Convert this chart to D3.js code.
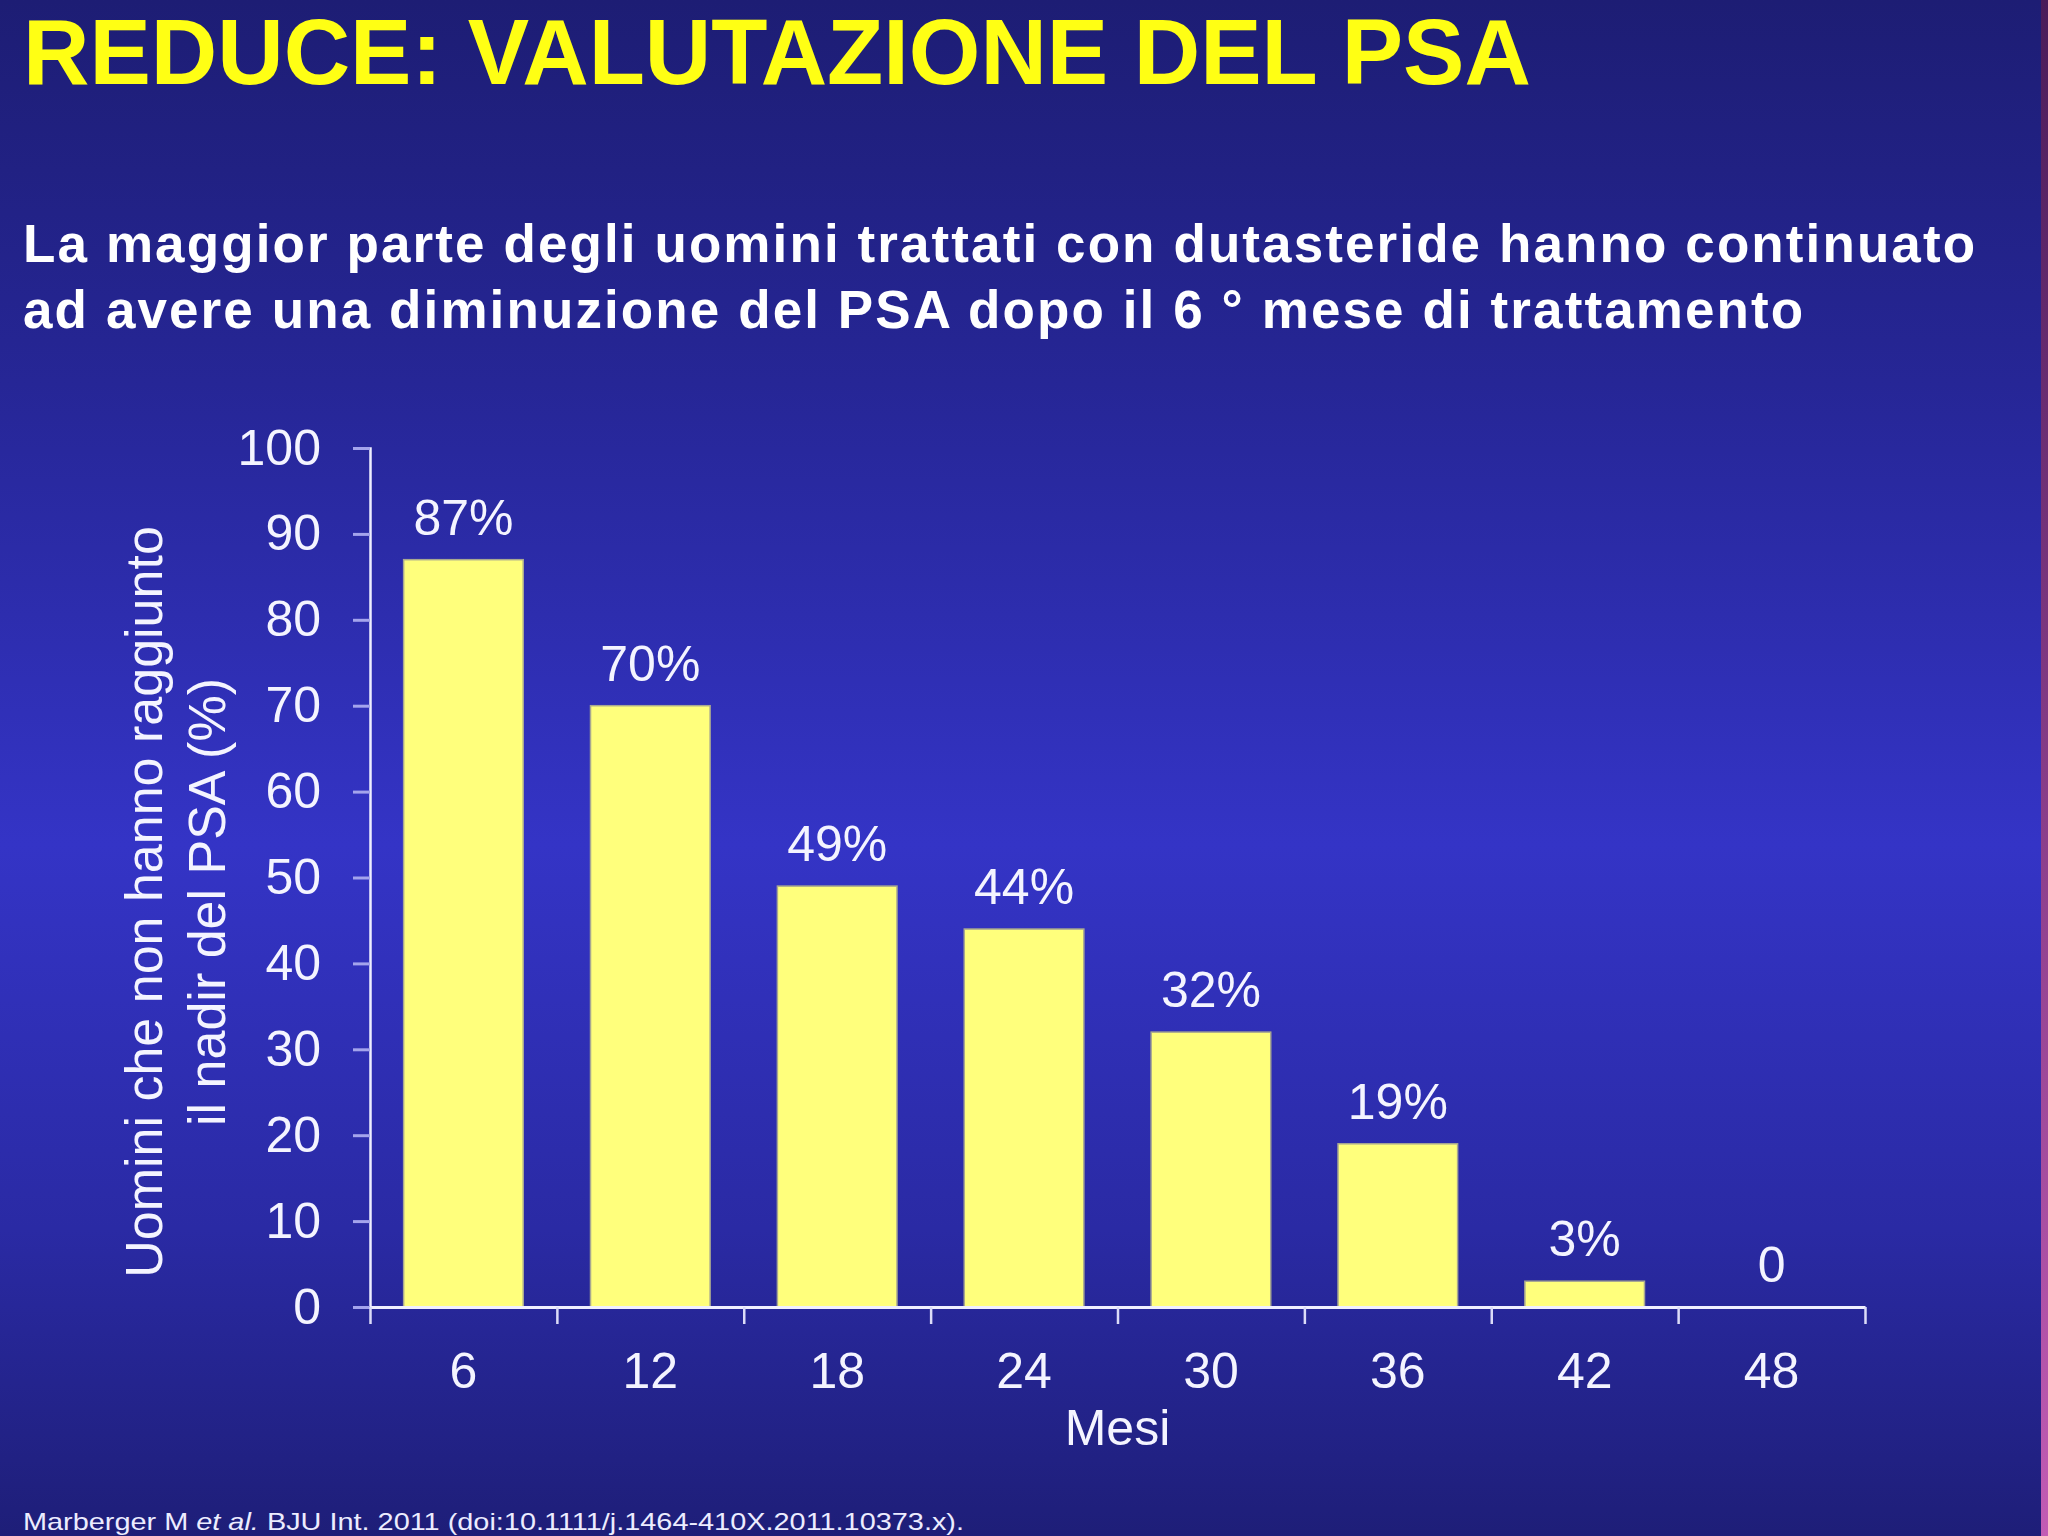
<!DOCTYPE html>
<html>
<head>
<meta charset="utf-8">
<script src="https://d3js.org/d3.v7.min.js"></script>
<style>
  body { margin: 0; background: #1e1e7a; }
  svg { display: block; }
</style>
</head>
<body>
<script>
//Chart data
    const months = ["6", "12", "18", "24", "30", "36", "42", "48"];
    const values = [87, 70, 49, 44, 32, 19, 3, 0];
    const valueLabels = ["87%", "70%", "49%", "44%", "32%", "19%", "3%", "0"];
    const yTicks = [0, 10, 20, 30, 40, 50, 60, 70, 80, 90, 100];

//Texts
    const title = "REDUCE: VALUTAZIONE DEL PSA";
    const subtitle = [
        "La maggior parte degli uomini trattati con dutasteride hanno continuato",
        "ad avere una diminuzione del PSA dopo il 6 \u00b0 mese di trattamento"
    ];
    const yTitle = ["Uomini che non hanno raggiunto", "il nadir del PSA (%)"];
    const xTitle = "Mesi";

//Global variables
    const width = 2048;
    const height = 1536;
    const plotLeft = 370, plotRight = 1865;
    const plotTop = 448, plotBottom = 1307;
    const font = "'Liberation Sans', Arial, sans-serif";

    const svg = d3.select("body")
        .append("svg")
        .attr("width", width)
        .attr("height", height);

//Background gradient
    const defs = svg.append("defs");
    const bg = defs.append("linearGradient")
        .attr("id", "bg")
        .attr("x1", 0).attr("y1", 0).attr("x2", 0).attr("y2", 1);
    bg.append("stop").attr("offset", "0%").attr("stop-color", "#1d1d74");
    bg.append("stop").attr("offset", "25%").attr("stop-color", "#262696");
    bg.append("stop").attr("offset", "55%").attr("stop-color", "#3434c6");
    bg.append("stop").attr("offset", "80%").attr("stop-color", "#2a2aa4");
    bg.append("stop").attr("offset", "100%").attr("stop-color", "#1e1e78");

    const edge = defs.append("linearGradient")
        .attr("id", "edge")
        .attr("x1", 0).attr("y1", 0).attr("x2", 0).attr("y2", 1);
    edge.append("stop").attr("offset", "0%").attr("stop-color", "#4a1c5a");
    edge.append("stop").attr("offset", "100%").attr("stop-color", "#c25cb4");

    svg.append("rect")
        .attr("width", width)
        .attr("height", height)
        .attr("fill", "url(#bg)");

    svg.append("rect")
        .attr("x", 2041)
        .attr("width", 7)
        .attr("height", height)
        .attr("fill", "url(#edge)");

//Headings
    svg.append("text")
        .attr("x", 23)
        .attr("y", 84)
        .attr("font-family", font)
        .attr("font-weight", "bold")
        .attr("font-size", 92)
        .attr("fill", "#ffff14")
        .text(title);

    svg.selectAll(".subtitle")
        .data(subtitle)
        .enter()
        .append("text")
        .attr("class", "subtitle")
        .attr("x", 23)
        .attr("y", (d, i) => 262 + i * 66)
        .attr("font-family", font)
        .attr("font-weight", "bold")
        .attr("font-size", 53)
        .attr("letter-spacing", 2.1)
        .attr("fill", "#ffffff")
        .text(d => d);

//Scales
    const xScale = d3.scaleBand()
        .domain(months)
        .range([plotLeft, plotRight])
        .paddingInner(0.36)
        .paddingOuter(0.18);

    const yScale = d3.scaleLinear()
        .domain([0, 100])
        .range([plotBottom, plotTop]);

    // boundaries between the month bands, used for the tick marks
    const edgeScale = d3.scaleLinear()
        .domain([0, months.length])
        .range([plotLeft, plotRight]);

//Bars
    svg.selectAll(".bar")
        .data(values)
        .enter()
        .append("rect")
        .attr("class", "bar")
        .attr("x", (d, i) => xScale(months[i]))
        .attr("y", d => yScale(d))
        .attr("width", xScale.bandwidth())
        .attr("height", d => plotBottom - yScale(d))
        .attr("fill", "#ffff7c")
        .attr("stroke", "#a8a890")
        .attr("stroke-width", 1.5);

    svg.selectAll(".value")
        .data(values)
        .enter()
        .append("text")
        .attr("class", "value")
        .attr("x", (d, i) => xScale(months[i]) + xScale.bandwidth() / 2)
        .attr("y", d => yScale(d) - 25)
        .attr("text-anchor", "middle")
        .attr("font-family", font)
        .attr("font-size", 50)
        .attr("fill", "#f4f4ff")
        .text((d, i) => valueLabels[i]);

//Axes
    const leftAxis = d3.axisLeft(yScale)
        .tickValues(yTicks)
        .tickSize(17)
        .tickPadding(32);

    const gy = svg.append("g")
        .attr("transform", "translate(" + plotLeft + ",0)")
        .call(leftAxis);
    gy.select(".domain").attr("stroke", "#eeeeff").attr("stroke-width", 2.5);
    gy.selectAll(".tick line").attr("stroke", "#a4a4ec").attr("stroke-width", 3);
    gy.selectAll(".tick text")
        .attr("font-family", font)
        .attr("font-size", 50)
        .attr("fill", "#f4f4ff");

    const tickAxis = d3.axisBottom(edgeScale)
        .tickValues(d3.range(months.length + 1))
        .tickFormat("")
        .tickSizeInner(17)
        .tickSizeOuter(0);

    const gt = svg.append("g")
        .attr("transform", "translate(0," + plotBottom + ")")
        .call(tickAxis);
    gt.select(".domain").attr("stroke", "#f0f0ff").attr("stroke-width", 3);
    gt.selectAll(".tick line").attr("stroke", "#dcdcf8").attr("stroke-width", 2.5);

    const bottomAxis = d3.axisBottom(xScale)
        .tickSize(0)
        .tickPadding(45);

    const gx = svg.append("g")
        .attr("transform", "translate(0," + plotBottom + ")")
        .call(bottomAxis);
    gx.select(".domain").remove();
    gx.selectAll(".tick text")
        .attr("font-family", font)
        .attr("font-size", 50)
        .attr("fill", "#f4f4ff");

//Axis titles
    svg.append("text")
        .attr("x", (plotLeft + plotRight) / 2)
        .attr("y", 1445)
        .attr("text-anchor", "middle")
        .attr("font-family", font)
        .attr("font-size", 50)
        .attr("fill", "#f4f4ff")
        .text(xTitle);

    svg.selectAll(".ytitle")
        .data(yTitle)
        .enter()
        .append("text")
        .attr("class", "ytitle")
        .attr("transform", (d, i) => "translate(" + (162 + i * 63) + ",902) rotate(-90)")
        .attr("text-anchor", "middle")
        .attr("font-family", font)
        .attr("font-size", 52)
        .attr("fill", "#f4f4ff")
        .text(d => d);

//Source note
    const note = svg.append("text")
        .attr("x", 23)
        .attr("y", 1530)
        .attr("font-family", font)
        .attr("font-size", 24)
        .attr("textLength", 941)
        .attr("lengthAdjust", "spacingAndGlyphs")
        .attr("fill", "#ececff");
    note.append("tspan").text("Marberger M ");
    note.append("tspan").attr("font-style", "italic").text("et al.");
    note.append("tspan").text(" BJU Int. 2011 (doi:10.1111/j.1464-410X.2011.10373.x).");
</script>
</body>
</html>
